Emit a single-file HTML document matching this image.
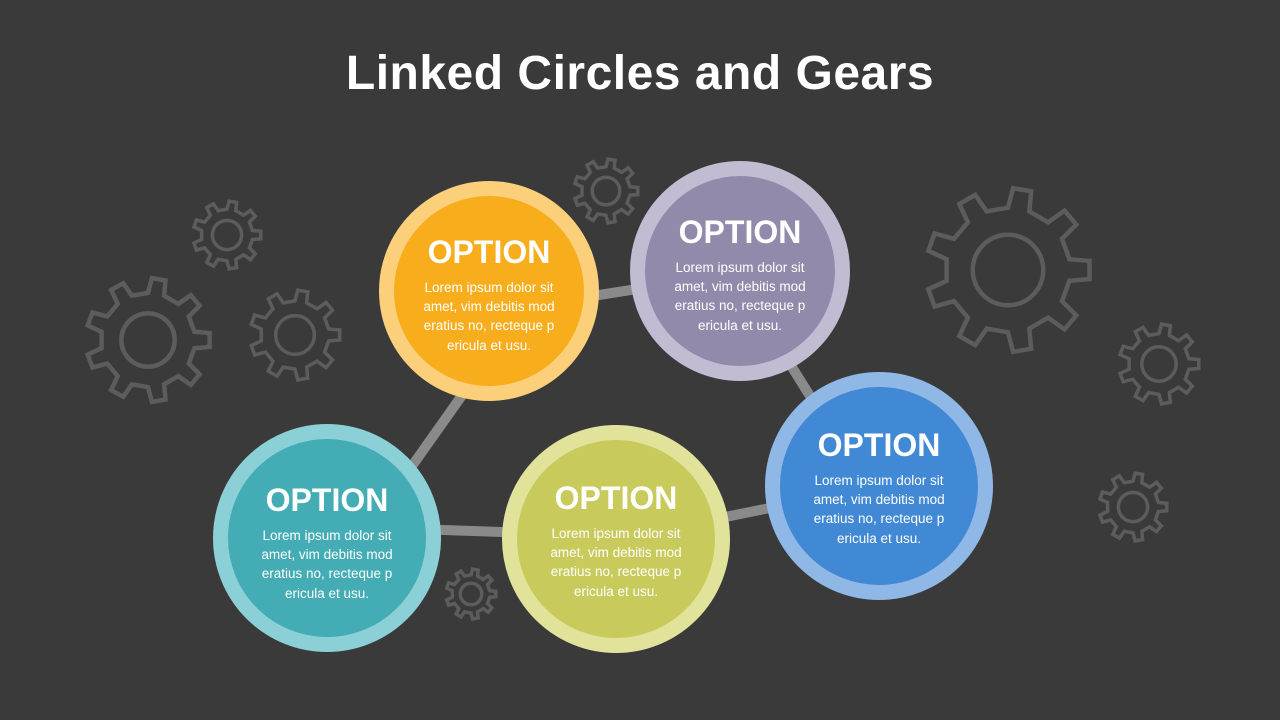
<!DOCTYPE html>
<html><head><style>
body{margin:0;width:1280px;height:720px;background:#3a3a3a;overflow:hidden;font-family:"Liberation Sans",sans-serif}
h1{position:absolute;top:46px;left:0;width:1280px;text-align:center;margin:0;color:#fff;font-size:48px;font-weight:bold;letter-spacing:0.5px}
.c{position:absolute;border-radius:50%;box-sizing:border-box;color:#fff;text-align:center}
.c b{display:block;font-size:32px;line-height:36px}
.c p{margin:8px 0 0;font-size:13.5px;line-height:19.2px}
</style></head><body>
<svg id="s" width="1280" height="720" style="position:absolute;left:0;top:0">
<g stroke="#8a8a8a" stroke-width="10">
<line x1="480" y1="370" x2="395" y2="490"/>
<line x1="580" y1="298" x2="650" y2="287"/>
<line x1="775" y1="340" x2="825" y2="420"/>
<line x1="879" y1="486" x2="616" y2="539"/>
<line x1="327" y1="526" x2="616" y2="536"/>
</g>
</svg>
<h1>Linked Circles and Gears</h1>
<div class="c" style="left:379px;top:181px;width:220px;height:220px;background:#f7ad1c;border:15px solid #fccf7b;padding-top:38px"><b>OPTION</b><p>Lorem ipsum dolor sit<br>amet, vim debitis mod<br>eratius no, recteque p<br>ericula et usu.</p></div>
<div class="c" style="left:630px;top:161px;width:220px;height:220px;background:#928aab;border:15px solid #c2bcd2;padding-top:38px"><b>OPTION</b><p>Lorem ipsum dolor sit<br>amet, vim debitis mod<br>eratius no, recteque p<br>ericula et usu.</p></div>
<div class="c" style="left:765px;top:372px;width:228px;height:228px;background:#4189d4;border:15px solid #8fb8e6;padding-top:40px"><b>OPTION</b><p>Lorem ipsum dolor sit<br>amet, vim debitis mod<br>eratius no, recteque p<br>ericula et usu.</p></div>
<div class="c" style="left:502px;top:425px;width:228px;height:228px;background:#c8cb5c;border:15px solid #e1e39b;padding-top:40px"><b>OPTION</b><p>Lorem ipsum dolor sit<br>amet, vim debitis mod<br>eratius no, recteque p<br>ericula et usu.</p></div>
<div class="c" style="left:213px;top:424px;width:228px;height:228px;background:#43acb4;border:15px solid #8bd0d6;padding-top:43px"><b>OPTION</b><p>Lorem ipsum dolor sit<br>amet, vim debitis mod<br>eratius no, recteque p<br>ericula et usu.</p></div>
<script>
var s=document.getElementById('s'),ns='http://www.w3.org/2000/svg';
[[148,340,62],[227,235,34],[295,335,45],[606,191,32],[1008,270,82],[1159,364,40],[1133,507,34],[471,594,25]].forEach(function(g){
var cx=g[0],cy=g[1],R=g[2],r=R*0.76,n=9,d='';
for(var i=0;i<n;i++){var a=i*2*Math.PI/n,w=Math.PI/n;
var pts=[[r,a-w*0.5],[R,a-w*0.32],[R,a+w*0.32],[r,a+w*0.5],[r,a+w*1.5]];
pts.forEach(function(p,k){d+=(i==0&&k==0?'M':'L')+(cx+p[0]*Math.cos(p[1])).toFixed(1)+' '+(cy+p[0]*Math.sin(p[1])).toFixed(1)+' ';});}
d+='Z';var p=document.createElementNS(ns,'path');p.setAttribute('d',d);p.setAttribute('fill','none');p.setAttribute('stroke','#5c5c5c');p.setAttribute('stroke-width',R>50?4.5:3.5);
var c=document.createElementNS(ns,'circle');c.setAttribute('cx',cx);c.setAttribute('cy',cy);c.setAttribute('r',R*0.43);c.setAttribute('fill','none');c.setAttribute('stroke','#5c5c5c');c.setAttribute('stroke-width',R>50?4.5:3.5);
s.insertBefore(c,s.firstChild);s.insertBefore(p,s.firstChild);});
</script>
</body></html>
